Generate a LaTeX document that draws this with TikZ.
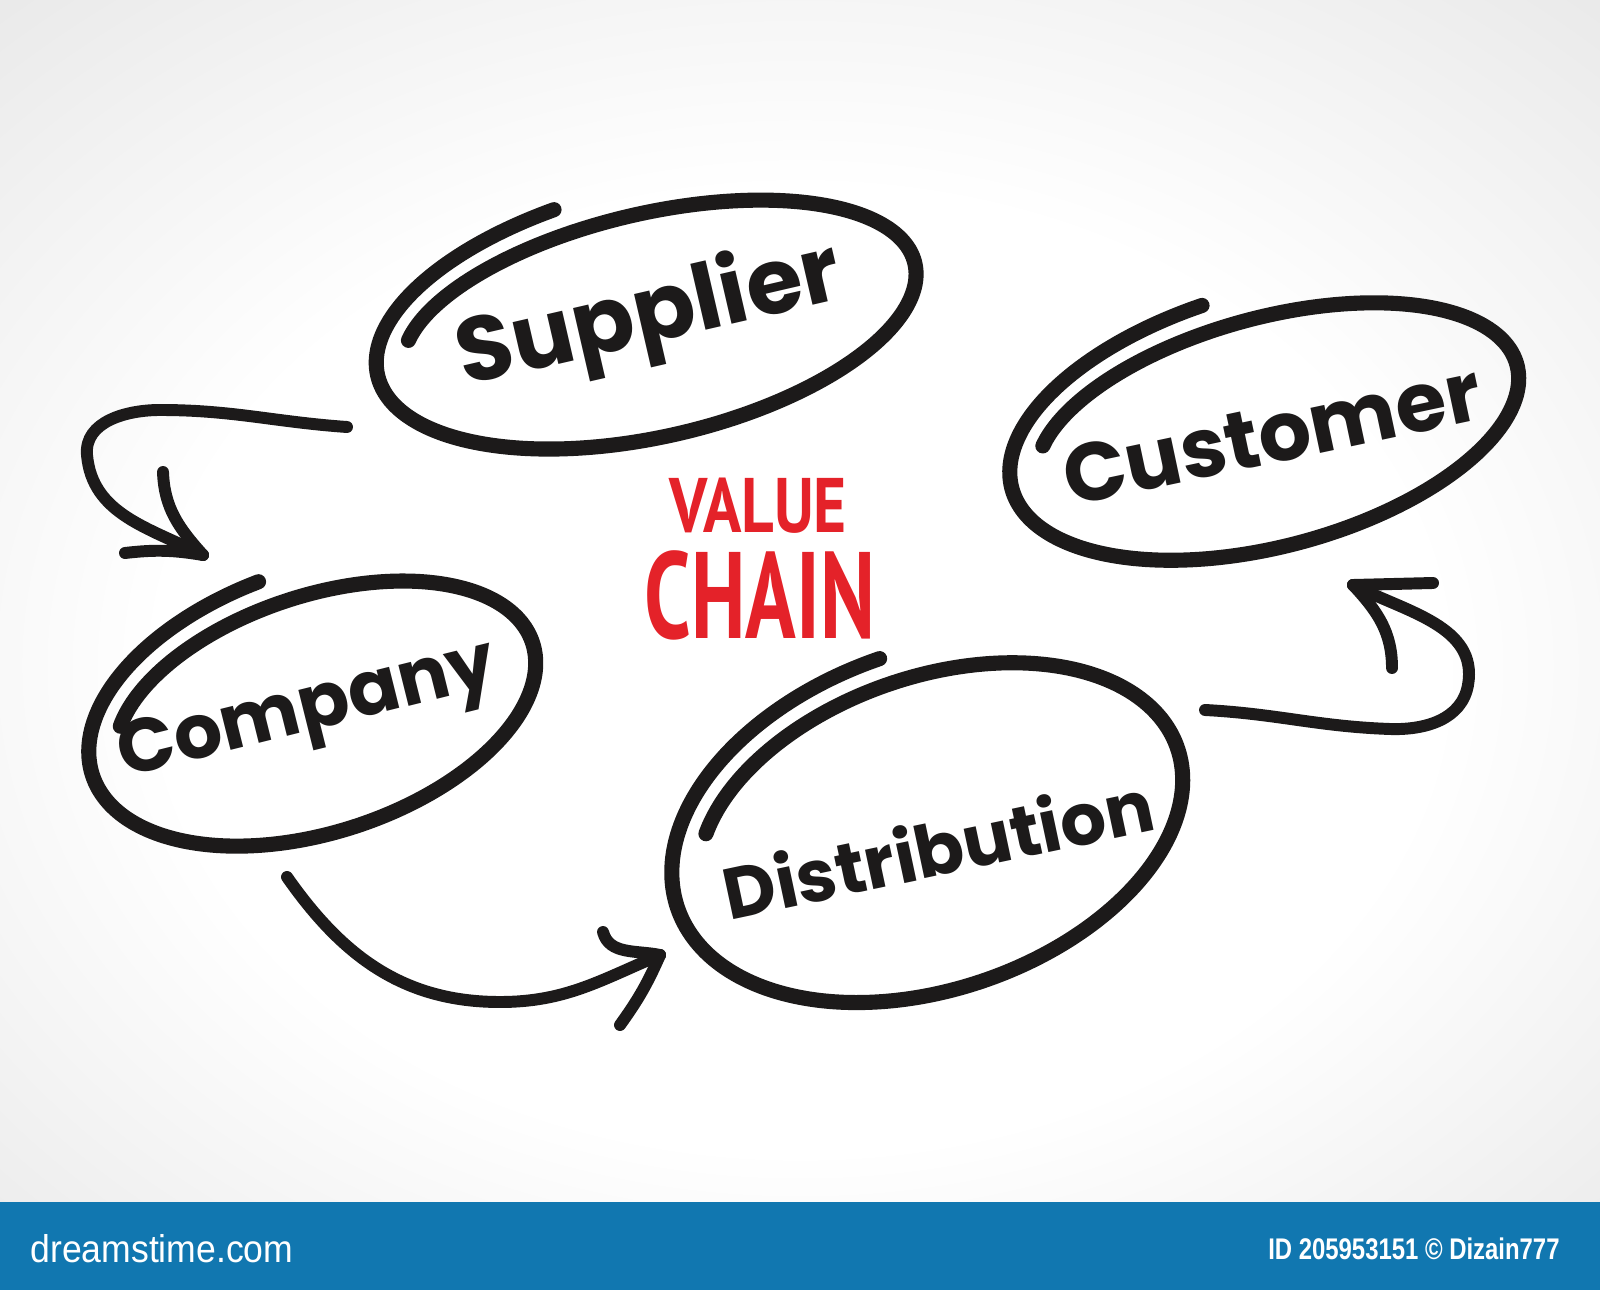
\documentclass[tikz,border=0pt]{standalone}
\usepackage{fontspec}
\usepackage{graphicx}
\newfontfamily\handfont{Poppins}
\newfontfamily\markfont{PT Sans}
\newfontfamily\stockfont{Liberation Sans}
\definecolor{ink}{HTML}{1C1A1A}
\definecolor{valred}{HTML}{E42229}
\definecolor{footblue}{HTML}{1177B0}
\pgfdeclareradialshading{paper}{\pgfpoint{0bp}{-4bp}}{color(0bp)=(white); color(20bp)=(white); color(48bp)=(black!14); color(72bp)=(black!24)}
\tikzset{
  ring/.style={draw=ink, line width=4.3pt, line cap=round},
  word/.style={text=ink, font=\handfont\bfseries, inner sep=0pt},
  flow/.style={draw=ink, line width=3.4pt, line cap=round, line join=round},
  redword/.style={text=valred, font=\markfont\bfseries, inner sep=0pt}
}
% one hand drawn loop: x radius, y radius, start angle, end angle
\newcommand{\bubbleloop}[4]{%
  \draw [ring] plot [domain=#3:#4, samples=150, smooth]
    ({(#1+0.16-0.32*(\x-#3)/(#4-#3))*cos(\x)}, {(#2+0.16-0.32*(\x-#3)/(#4-#3))*sin(\x)});
}
\begin{document}
\begin{tikzpicture}

        %Background
        \useasboundingbox (0,0) rectangle (16,12.9);
        \shade [shading=paper] (0,0.88) rectangle (16,12.9);

        %Footer
        \fill [footblue] (0,0) rectangle (16,0.88);
        \node [text=white, font=\stockfont\fontsize{11}{11}\selectfont, anchor=west] (site) at (0.18,0.41) {\scalebox{0.92}[1]{dreamstime.com}};
        \node [text=white, font=\stockfont\bfseries\fontsize{8.5}{8.5}\selectfont, anchor=east] (stockid) at (15.72,0.41) {\scalebox{0.8}[1]{ID 205953151 © Dizain777}};

        %Supplier
        \coordinate (supplierRing) at (6.53,9.72);
        \begin{scope}[shift={(supplierRing)}, rotate=12]
          \bubbleloop{2.71}{1.15}{105}{523}
        \end{scope}
        \node [word, rotate=13] (supplier) at (6.50,9.72) {\fontsize{26}{26}\selectfont Supplier};

        %Customer
        \coordinate (customerRing) at (12.71,8.65);
        \begin{scope}[shift={(customerRing)}, rotate=14]
          \bubbleloop{2.57}{1.18}{98}{520}
        \end{scope}
        \node [word, rotate=12] (customer) at (12.72,8.56) {\fontsize{23.5}{23.5}\selectfont Customer};

        %Company
        \coordinate (companyRing) at (3.19,5.83);
        \begin{scope}[shift={(companyRing)}, rotate=17]
          \bubbleloop{2.27}{1.22}{95}{518}
        \end{scope}
        \node [word, rotate=14] (company) at (3.08,5.76) {\fontsize{21.5}{21.5}\selectfont Company};

        %Distribution
        \coordinate (distributionRing) at (9.34,4.64);
        \begin{scope}[shift={(distributionRing)}, rotate=18]
          \bubbleloop{2.60}{1.60}{90}{514}
        \end{scope}
        \node [word, rotate=12] (distribution) at (9.38,4.43) {\fontsize{20.5}{20.5}\selectfont Distribution};

        %Title
        \node [redword] (value) at (7.58,7.84) {\fontsize{22}{22}\selectfont\scalebox{0.82}[1]{VALUE}};
        \node [redword] (chain) at (7.60,6.95) {\fontsize{35}{35}\selectfont\scalebox{0.68}[1]{CHAIN}};

        %Arrow ends
        \coordinate (supOut) at (3.47,8.63);
        \coordinate (comIn) at (2.03,7.35);
        \coordinate (comOut) at (2.87,4.13);
        \coordinate (disIn) at (6.60,3.35);
        \coordinate (disOut) at (12.05,5.80);
        \coordinate (cusIn) at (13.53,7.05);

        %Supplier to company
        \draw [flow] (supOut) to[out=176, in=0] (1.6,8.8) to[out=180, in=95] (0.87,8.35) to[out=-85, in=153] (comIn);
        \draw [flow] (comIn) to[out=132, in=-88] +(-0.40,0.83);
        \draw [flow] (comIn) to[bend right=8] +(-0.78,0.02);

        %Company to distribution
        \draw [flow] (comOut) to[out=-55, in=180] (5.0,2.88) to[out=0, in=-157] (disIn);
        \draw [flow] (disIn) to[out=168, in=-75] +(-0.57,0.23);
        \draw [flow] (disIn) to[bend left=6] +(-0.40,-0.70);

        %Distribution to customer
        \draw [flow] (disOut) to[out=-3, in=178] (13.9,5.61) to[out=-2, in=-100] (14.68,6.05) to[out=80, in=-27] (cusIn);
        \draw [flow] (cusIn) -- +(0.80,0.02);
        \draw [flow] (cusIn) to[out=-47, in=90] +(0.39,-0.83);

\end{tikzpicture}
\end{document}
